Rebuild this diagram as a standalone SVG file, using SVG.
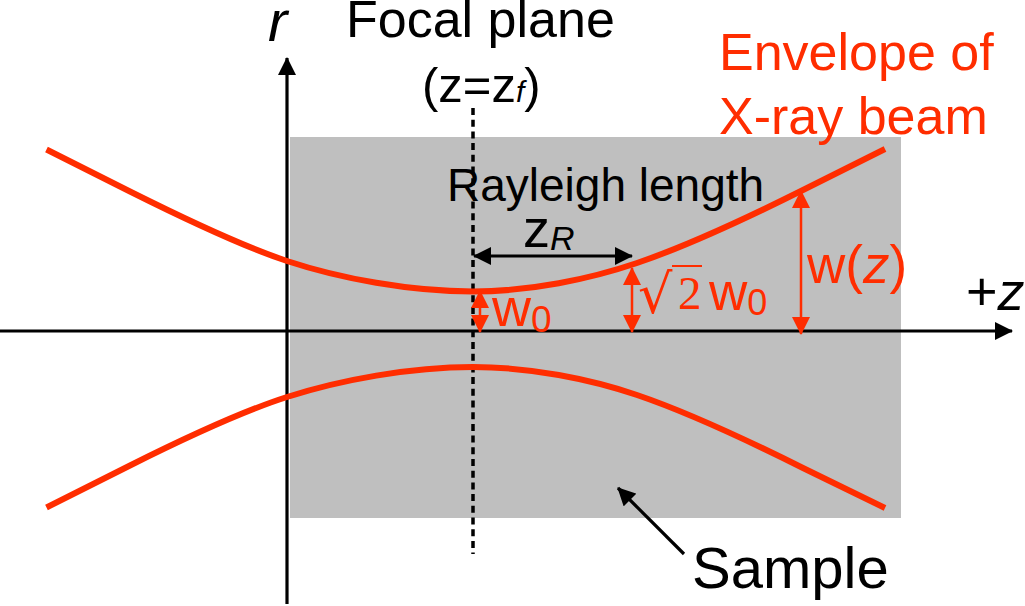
<svg xmlns="http://www.w3.org/2000/svg" width="1025" height="606" viewBox="0 0 1025 606">
<style>
text{font-family:"Liberation Sans",Arial,sans-serif;font-size:52px;fill:#000}
.r{fill:#ff2d00}
.i{font-style:italic}
.beam{fill:none;stroke:#ff2d00;stroke-width:6}
.k{fill:none;stroke:#000;stroke-width:3.2}
.rl{fill:none;stroke:#ff2d00;stroke-width:2.5}
</style>
<defs>
<marker id="ka" viewBox="0 0 18 18" refX="17" refY="9" markerWidth="18" markerHeight="18" markerUnits="userSpaceOnUse" orient="auto-start-reverse"><path d="M0 0L18 9L0 18Z" fill="#000"/></marker>
<marker id="ra" viewBox="0 0 18 18" refX="17" refY="9" markerWidth="18" markerHeight="18" markerUnits="userSpaceOnUse" orient="auto-start-reverse"><path d="M0 0L18 9L0 18Z" fill="#ff2d00"/></marker>
</defs>
<g id="sample"><rect x="290" y="137" width="611" height="381" fill="#bfbfbf"/></g>
<g id="connectors">
<path class="k" d="M287 604V58" marker-end="url(#ka)"/>
<path class="k" d="M0 331H1012" marker-end="url(#ka)"/>
<path d="M473 108V554" fill="none" stroke="#000" stroke-width="3.5" stroke-dasharray="7 4.7"/>
<path class="k" d="M474 256H632" marker-start="url(#ka)" marker-end="url(#ka)"/>
<path class="k" d="M684 554L618 488" marker-end="url(#ka)"/>
<path class="beam" d="M46.5 149.5L130 191.5C180 216.5 240 245.5 287 261C340 278.5 410 291.5 473 291.5C530 291.5 590 279 637 263C690 245 750 216.5 803 190L885 149"/>
<path class="beam" d="M46.5 507.5L130 465.5C180 440.5 240 412 287 397C340 380 410 367 473 367C530 367 590 379 637 395C690 413 750 441.5 803 468L885 508"/>
<path class="rl" d="M480 291V332" marker-start="url(#ra)" marker-end="url(#ra)"/>
<path class="rl" d="M632 268V332" marker-start="url(#ra)" marker-end="url(#ra)"/>
<path class="rl" d="M801 191V334" marker-start="url(#ra)" marker-end="url(#ra)"/>
</g>
<g id="label-r"><text class="i" x="268" y="41" style="font-size:58px">r</text></g>
<g id="label-focal"><text x="346" y="37">Focal plane</text>
<text x="422" y="102" style="font-size:49px">(z=z<tspan class="i" style="font-size:30px">f</tspan>)</text></g>
<g id="label-envelope"><text class="r" x="719" y="70">Envelope of</text><text class="r" x="719" y="134">X-ray beam</text></g>
<g id="label-rayleigh"><text x="447" y="201" style="font-size:46px">Rayleigh length</text></g>
<g id="label-zr"><text x="523" y="247" style="font-size:54px">z<tspan class="i" dy="3" style="font-size:34px">R</tspan></text></g>
<g id="label-w0"><text class="r" x="492" y="326" style="font-size:54px">w<tspan dy="6" style="font-size:37px">0</tspan></text></g>
<g id="label-sqrt"><text class="r" x="638" y="313" style='font-family:"DejaVu Serif",serif;font-size:54px'>√</text><path class="rl" d="M672 266H702" style="stroke-width:2"/><text class="r" x="678" y="309" style='font-family:"Liberation Serif",serif;font-size:47px'>2</text><text class="r" x="709" y="310" style="font-size:53px">w<tspan dy="5" style="font-size:36px">0</tspan></text></g>
<g id="label-wz"><text class="r" x="807" y="283" style="font-size:53px">w(<tspan class="i">z</tspan>)</text></g>
<g id="label-z"><text x="966" y="310" style="font-size:54px">+<tspan class="i">z</tspan></text></g>
<g id="label-sample"><text x="692" y="588" style="font-size:58px">Sample</text></g>
</svg>
